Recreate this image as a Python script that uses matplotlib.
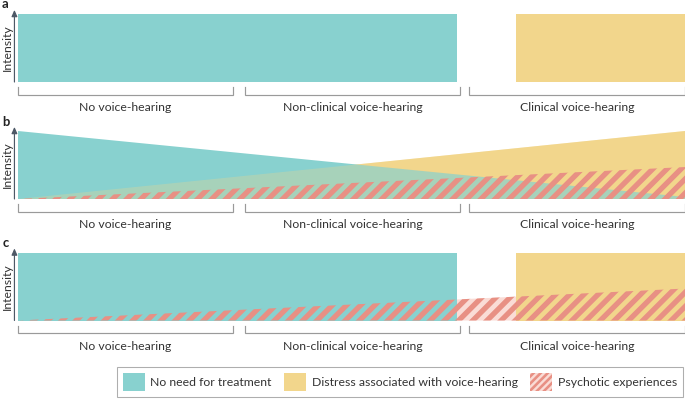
"""Voice-hearing continuum: three intensity panels with shared legend."""

import matplotlib

matplotlib.use("Agg")
import matplotlib.pyplot as plt  # noqa: E402
from matplotlib.patches import Patch  # noqa: E402

W, H, DPI = 685, 403, 85

plt.rcParams["font.family"] = ["Lato", "DejaVu Sans"]
plt.rcParams["hatch.linewidth"] = 4.5

TEAL = "#88d1cf"
YELLOW = "#f2d68c"
RED = "#e89084"
PINK = "#fadcd6"
GREY = "#9a9a9a"
AXIS = "#4d5866"
TEXT = "#333333"

categories = ["No voice-hearing", "Non-clinical voice-hearing", "Clinical voice-hearing"]
bracket_starts = [0.0, 1.02, 2.03]
bracket_ends = [0.965, 1.99, 3.0]

# panel a: flat blocks
a_teal_x = [0.0, 1.975]
a_teal_y = [1.0, 1.0]
a_yellow_x = [2.24, 3.0]
a_yellow_y = [1.0, 1.0]

# panel b: linear trends across the continuum
b_x = [0.0, 3.0]
b_teal_y = [1.0, 0.03]
b_yellow_y = [0.0, 1.0]
b_psych_y = [0.0, 0.47]

# panel c: flat blocks plus rising psychotic experiences
c_teal_x = [0.0, 1.975]
c_teal_y = [1.0, 1.0]
c_yellow_x = [2.24, 3.0]
c_yellow_y = [1.0, 1.0]
c_psych_x = [0.0, 3.0]
c_psych_y = [0.0, 0.47]

legend_labels = ["No need for treatment", "Distress associated with voice-hearing",
                 "Psychotic experiences"]

UNIT = 68.0  # pixels per intensity unit
Y_LOW, Y_HIGH = -0.45, 1.1
FS = 10.4


def add_panel(fig, base_px, letter, letter_px, teal, yellow, psych=None):
    bottom = base_px - Y_LOW * UNIT
    height = (Y_HIGH - Y_LOW) * UNIT
    ax = fig.add_axes([18 / W, 1 - bottom / H, 667 / W, height / H])
    ax.set_xlim(0, 3)
    ax.set_ylim(Y_LOW, Y_HIGH)
    ax.axis("off")

    if psych is not None:
        ax.fill_between(psych[0], 0, psych[1], facecolor=PINK, linewidth=0)
    ax.fill_between(yellow[0], 0, yellow[1], facecolor=YELLOW, linewidth=0)
    ax.fill_between(teal[0], 0, teal[1], facecolor=TEAL, linewidth=0)
    # yellow again, see-through, gives the green where both overlap
    ax.fill_between(yellow[0], 0, yellow[1], facecolor=YELLOW, alpha=0.3, linewidth=0)
    if psych is not None:
        ax.fill_between(psych[0], 0, psych[1], facecolor="none", edgecolor=RED,
                        hatch="//", linewidth=0)

    ax.annotate("", xy=(-0.016, 1.06), xytext=(-0.016, 0.0),
                arrowprops=dict(arrowstyle="-|>,head_length=0.45,head_width=0.2",
                                color=AXIS, lw=1.0, shrinkA=0, shrinkB=0),
                annotation_clip=False)
    ax.text(-0.05, 0.5, "Intensity", rotation=90, ha="center", va="center",
            fontsize=FS, color=TEXT, clip_on=False)

    for start, end, name in zip(bracket_starts, bracket_ends, categories):
        ax.plot([start, start, end, end], [-0.075, -0.19, -0.19, -0.075],
                color=GREY, lw=1.0, clip_on=False, solid_joinstyle="miter")
        ax.text((start + end) / 2, -0.375, name, ha="center", va="center",
                fontsize=FS, color=TEXT)

    fig.text(5.5 / W, 1 - letter_px / H, letter, ha="center", va="center",
             fontsize=11, fontweight="bold", color="#222222")
    return ax


fig = plt.figure(figsize=(W / DPI, H / DPI), dpi=DPI)

add_panel(fig, 82, "a", 4.5, (a_teal_x, a_teal_y), (a_yellow_x, a_yellow_y))
add_panel(fig, 199, "b", 122, (b_x, b_teal_y), (b_x, b_yellow_y), (b_x, b_psych_y))
add_panel(fig, 320.5, "c", 243, (c_teal_x, c_teal_y), (c_yellow_x, c_yellow_y),
          (c_psych_x, c_psych_y))

handles = [
    Patch(facecolor=TEAL, edgecolor="none"),
    Patch(facecolor=YELLOW, edgecolor="none"),
    Patch(facecolor=PINK, edgecolor=RED, hatch="////", linewidth=0),
]
legend = fig.legend(handles, legend_labels, ncol=3, loc="upper right",
                    bbox_to_anchor=(683 / W, 1 - 367 / H), frameon=True,
                    fancybox=False, edgecolor="#9a9a9a", handlelength=1.8,
                    handleheight=1.8, handletextpad=0.45, columnspacing=1.0,
                    borderpad=0.5, borderaxespad=0, fontsize=FS)
legend.get_frame().set_linewidth(0.9)
for text in legend.get_texts():
    text.set_color(TEXT)
for handle in legend.legend_handles:
    if hasattr(handle, "set_hatch_linewidth"):
        handle.set_hatch_linewidth(2.2)

fig.savefig("out.png", dpi=DPI)
plt.close(fig)
